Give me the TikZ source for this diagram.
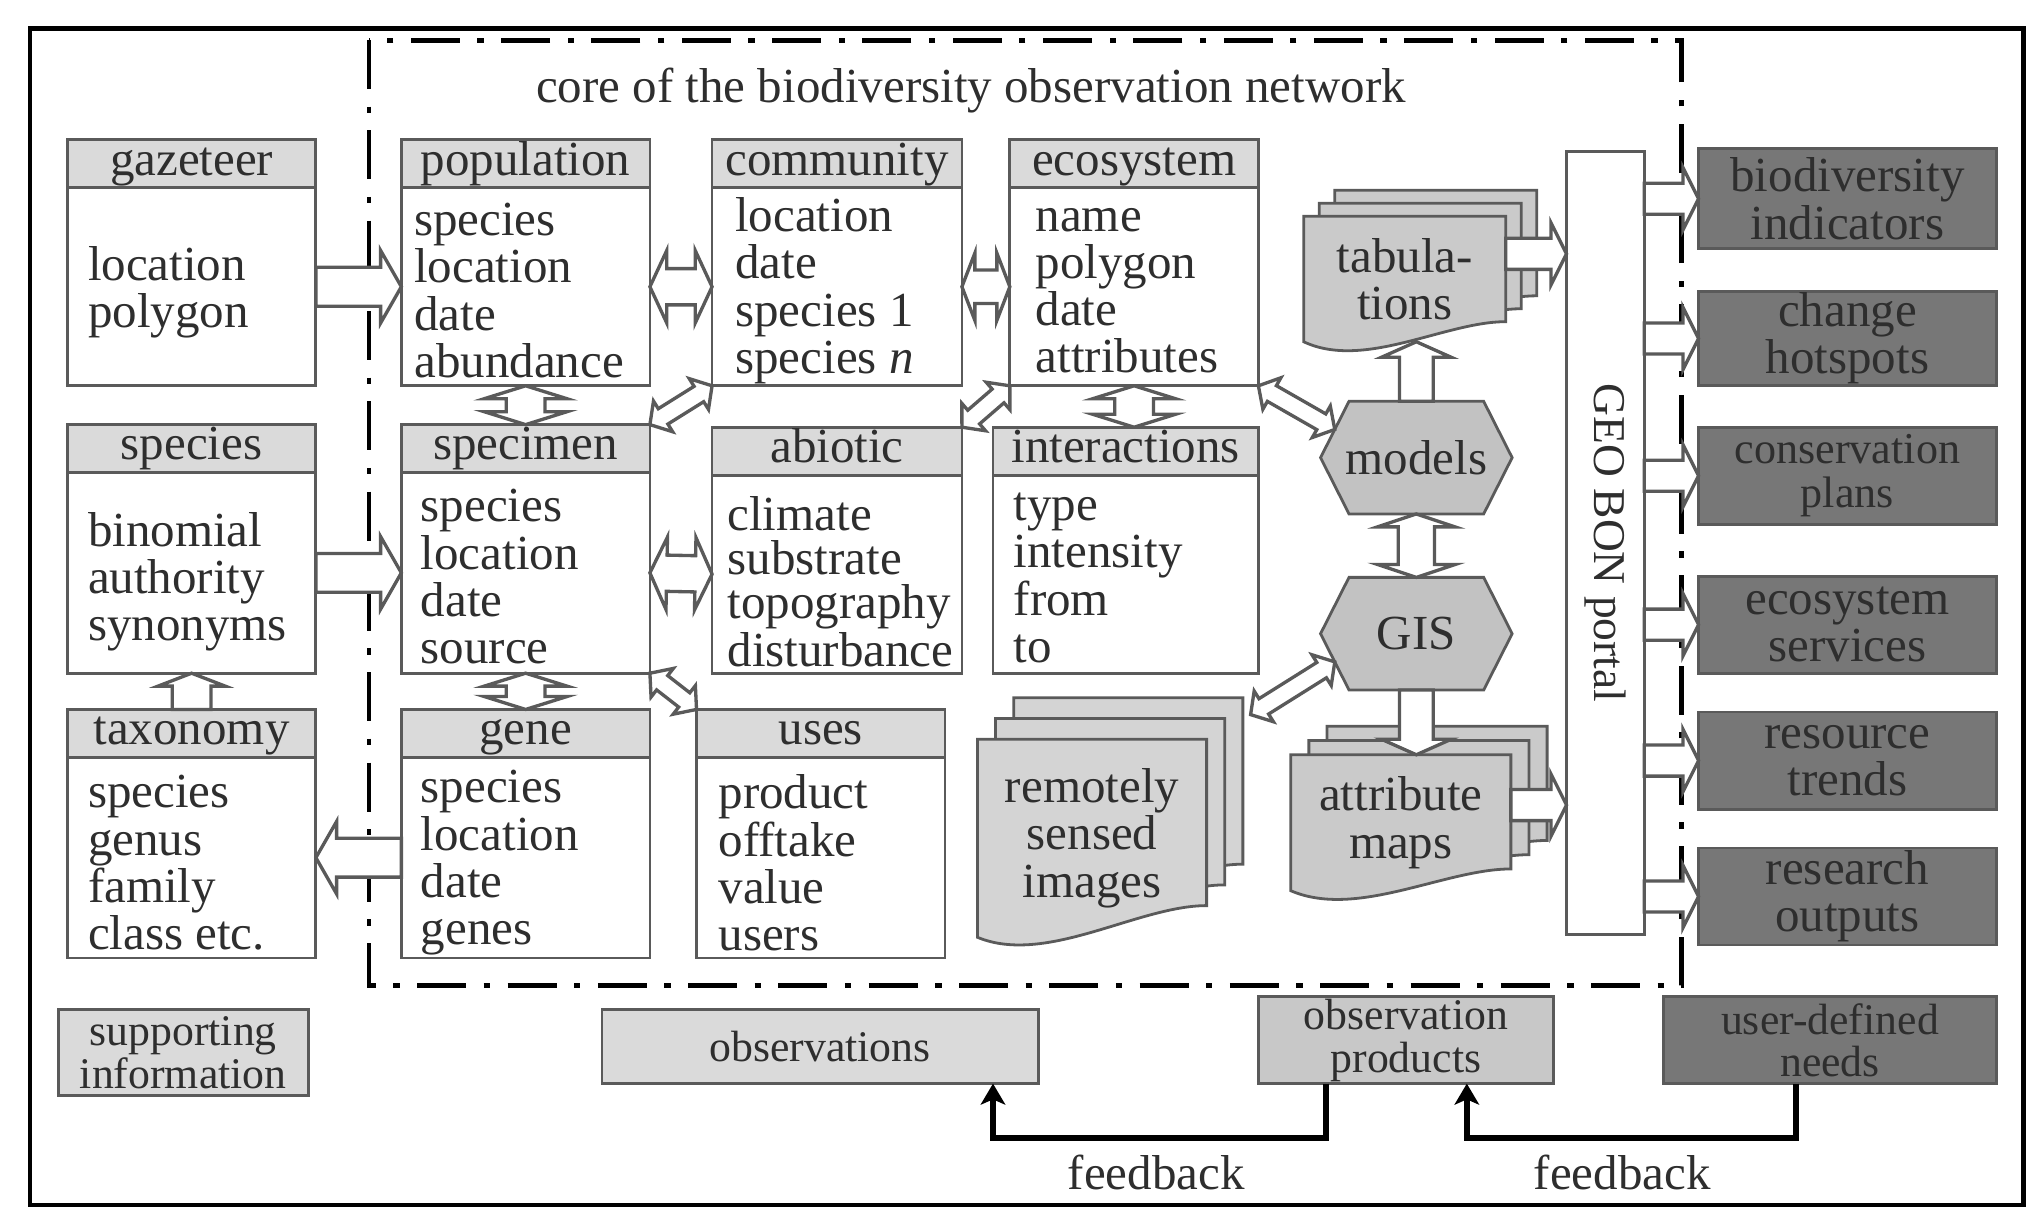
\documentclass[tikz,border=0pt]{standalone}
\usepackage{fontspec}
\setmainfont{Liberation Serif}
\usetikzlibrary{calc,arrows.meta}
\pgfdeclarelayer{bg}
\pgfsetlayers{bg,main}

\definecolor{boxline}{HTML}{5A5A5A}
\definecolor{hdrgray}{HTML}{DADADA}
\definecolor{sheetgray}{HTML}{CACACA}
\definecolor{rsgray}{HTML}{D4D4D4}
\definecolor{hexgray}{HTML}{C2C2C2}
\definecolor{prodgray}{HTML}{C8C8C8}
\definecolor{outgray}{HTML}{777777}
\definecolor{txt}{HTML}{2E2E2E}
\definecolor{arrline}{HTML}{5A5A5A}

\newcommand{\pxl}{0.013cm}

\newcommand{\blkarrow}[5]{%
  \coordinate (hb) at ($(#2)!#5*\pxl!(#1)$);
  \filldraw[blk] ($(#1)!#3*\pxl!90:(#2)$) -- ($(hb)!#3*\pxl!-90:(#1)$) -- ($(hb)!#4*\pxl!-90:(#1)$)
    -- (#2) -- ($(hb)!#4*\pxl!90:(#1)$) -- ($(hb)!#3*\pxl!90:(#1)$) -- ($(#1)!#3*\pxl!-90:(#2)$) -- cycle;}

\newcommand{\dblarrow}[5]{%
  \coordinate (ha) at ($(#1)!#5*\pxl!(#2)$);
  \coordinate (hb) at ($(#2)!#5*\pxl!(#1)$);
  \filldraw[blk] (#1) -- ($(ha)!#4*\pxl!90:(#2)$) -- ($(ha)!#3*\pxl!90:(#2)$) -- ($(hb)!#3*\pxl!-90:(#1)$)
    -- ($(hb)!#4*\pxl!-90:(#1)$) -- (#2) -- ($(hb)!#4*\pxl!90:(#1)$) -- ($(hb)!#3*\pxl!90:(#1)$)
    -- ($(ha)!#3*\pxl!-90:(#2)$) -- ($(ha)!#4*\pxl!-90:(#2)$) -- cycle;}

\newcommand{\docsheet}[5]{%
  \filldraw[sheet, fill=#5] (#1,#2) -- ({#1+#3},#2) -- ({#1+#3},{#2+0.84*#4})
    .. controls ({#1+0.7*#3},{#2+0.84*#4}) and ({#1+0.3*#3},{#2+#4+22}) .. (#1,{#2+#4}) -- cycle;}

\newcommand{\docstack}[7]{%
  \docsheet{#1+2*#5}{#2-2*#6}{#3}{#4}{#7}
  \docsheet{#1+#5}{#2-#6}{#3}{#4}{#7}
  \docsheet{#1}{#2}{#3}{#4}{#7}}

\begin{document}
\begin{tikzpicture}[x=0.013cm, y=-0.013cm,
    every node/.style={font=\fontsize{14}{13.5}\selectfont, text=txt, outer sep=0pt},
    hdr/.style={draw=boxline, line width=0.8pt, fill=hdrgray, anchor=north west, inner sep=0pt, minimum height=37*\pxl,
      text height=9.5pt, text depth=3pt},
    bdy/.style={draw=boxline, line width=0.8pt, fill=white, anchor=north west, inner sep=0pt},
    lst/.style={anchor=west, align=left, inner sep=0pt},
    outbox/.style={draw=boxline, line width=0.8pt, fill=outgray, anchor=north west, inner sep=0pt, align=center, minimum width=230*\pxl},
    plainbox/.style={draw=boxline, line width=0.8pt, anchor=north west, inner sep=0pt, align=center, font=\fontsize{12.5}{12.2}\selectfont},
    docn/.style={anchor=north west, inner sep=0pt, align=center},
    hexn/.style={inner sep=0pt, minimum width=148*\pxl, minimum height=87*\pxl},
    blk/.style={fill=white, draw=arrline, line width=0.95pt},
    sheet/.style={draw=boxline, line width=0.8pt},
    hex/.style={draw=boxline, line width=0.8pt, fill=hexgray},
    coreline/.style={line width=1.4pt, dash pattern=on 14pt off 5pt on 1.8pt off 5pt},
    fb/.style={line width=1.8pt, -{Stealth[length=6pt,width=7pt,inset=1.5pt]}}]

\useasboundingbox (0,0) rectangle (1568,934);
\draw[line width=1.2pt] (23,22) rectangle (1563,931);
\draw[coreline] (285,31) rectangle (1299,761);

\node (title) at (750,70) {core of the biodiversity observation network};

\node[hdr, minimum width=192*\pxl] (gazh) at (52,108) {gazeteer};
\node[bdy, minimum width=192*\pxl, minimum height=153*\pxl] (gazb) at (52,145) {};
\node[lst] (gazt) at ($(gazb.west)+(16,4)$) {location\\polygon};

\node[hdr, minimum width=192*\pxl] (poph) at (310,108) {population};
\node[bdy, minimum width=192*\pxl, minimum height=153*\pxl] (popb) at (310,145) {};
\node[lst] (popt) at ($(popb.west)+(10,3)$) {species\\location\\date\\abundance};

\node[hdr, minimum width=193*\pxl] (comh) at (550,108) {community};
\node[bdy, minimum width=193*\pxl, minimum height=153*\pxl] (comb) at (550,145) {};
\node[lst] (comt) at ($(comb.west)+(18,3)$) {location\\date\\species 1\\species \textit{n}};

\node[hdr, minimum width=192*\pxl] (ecoh) at (780,108) {ecosystem};
\node[bdy, minimum width=192*\pxl, minimum height=153*\pxl] (ecob) at (780,145) {};
\node[lst] (ecot) at ($(ecob.west)+(20,3)$) {name\\polygon\\date\\attributes};

\node[hdr, minimum width=192*\pxl] (spch) at (52,328) {species};
\node[bdy, minimum width=192*\pxl, minimum height=155*\pxl] (spcb) at (52,365) {};
\node[lst] (spct) at ($(spcb.west)+(16,7)$) {binomial\\authority\\synonyms};

\node[hdr, minimum width=192*\pxl] (spmh) at (310,328) {specimen};
\node[bdy, minimum width=192*\pxl, minimum height=155*\pxl] (spmb) at (310,365) {};
\node[lst] (spmt) at ($(spmb.west)+(15,3)$) {species\\location\\date\\source};

\node[hdr, minimum width=193*\pxl] (abih) at (550,330) {abiotic};
\node[bdy, minimum width=193*\pxl, minimum height=153*\pxl] (abib) at (550,367) {};
\node[lst, font=\fontsize{14}{12.6}\selectfont] (abit) at ($(abib.west)+(12,6)$) {climate\\substrate\\topography\\disturbance};

\node[hdr, minimum width=205*\pxl] (inth) at (767,330) {interactions};
\node[bdy, minimum width=205*\pxl, minimum height=153*\pxl] (intb) at (767,367) {};
\node[lst] (intt) at ($(intb.west)+(16,3)$) {type\\intensity\\from\\to};

\node[hdr, minimum width=192*\pxl] (taxh) at (52,548) {taxonomy};
\node[bdy, minimum width=192*\pxl, minimum height=155*\pxl] (taxb) at (52,585) {};
\node[lst] (taxt) at ($(taxb.west)+(16,4)$) {species\\genus\\family\\class etc.};

\node[hdr, minimum width=192*\pxl] (genh) at (310,548) {gene};
\node[bdy, minimum width=192*\pxl, minimum height=155*\pxl] (genb) at (310,585) {};
\node[lst] (gent) at ($(genb.west)+(15,4)$) {species\\location\\date\\genes};

\node[hdr, minimum width=192*\pxl] (useh) at (538,548) {uses};
\node[bdy, minimum width=192*\pxl, minimum height=155*\pxl] (useb) at (538,585) {};
\node[lst] (uset) at ($(useb.west)+(17,4)$) {product\\offtake\\value\\users};

\node[docn, minimum width=156*\pxl, minimum height=97*\pxl] (tab) at (1007,167) {tabula-\\tions};
\node[docn, minimum width=177*\pxl, minimum height=153*\pxl] (rsi) at (755,571) {remotely\\sensed\\images};
\node[docn, minimum width=170*\pxl, minimum height=105*\pxl] (attr) at (997,583) {attribute\\maps};

\node[hexn] (models) at (1094,353.5) {models};
\node[hexn] (gis) at (1094,489.5) {GIS};

\node[draw=boxline, line width=0.8pt, fill=white, anchor=north west, inner sep=0pt,
      minimum width=60*\pxl, minimum height=605*\pxl] (portal) at (1210,117) {};
\node[rotate=-90, font=\fontsize{13}{13}\selectfont] (portalt) at (portal.center) {GEO BON portal};

\node[outbox, minimum height=77*\pxl] (bio) at (1312,115) {biodiversity\\indicators};
\node[outbox, minimum height=73*\pxl] (chg) at (1312,225) {change\\hotspots};
\node[outbox, minimum height=75*\pxl, font=\fontsize{12.6}{12.4}\selectfont] (con) at (1312,330) {conservation\\plans};
\node[outbox, minimum height=75*\pxl] (esv) at (1312,445) {ecosystem\\services};
\node[outbox, minimum height=75*\pxl] (res) at (1312,550) {resource\\trends};
\node[outbox, minimum height=75*\pxl] (rso) at (1312,655) {research\\outputs};

\node[plainbox, fill=hdrgray, minimum width=193*\pxl, minimum height=66*\pxl] (sup) at (45,780) {supporting\\information};
\node[plainbox, fill=hdrgray, minimum width=337*\pxl, minimum height=57*\pxl] (obs) at (465,780) {observations};
\node[plainbox, fill=prodgray, minimum width=228*\pxl, minimum height=67*\pxl] (opp) at (972,770) {observation\\products};
\node[plainbox, fill=outgray, minimum width=257*\pxl, minimum height=67*\pxl] (udn) at (1285,770) {user-defined\\needs};

\node (fb1) at (893,906) {feedback};
\node (fb2) at (1253,906) {feedback};

\begin{pgfonlayer}{bg}
\docstack{1007}{167}{156}{97}{12}{10}{sheetgray}
\docstack{755}{571}{177}{153}{14}{16}{rsgray}
\docstack{997}{583}{170}{105}{14}{11}{sheetgray}
\filldraw[hex] (models.west) -- ($(models.north west)+(22,0)$) -- ($(models.north east)+(-22,0)$) -- (models.east)
  -- ($(models.south east)+(-22,0)$) -- ($(models.south west)+(22,0)$) -- cycle;
\filldraw[hex] (gis.west) -- ($(gis.north west)+(22,0)$) -- ($(gis.north east)+(-22,0)$) -- (gis.east)
  -- ($(gis.south east)+(-22,0)$) -- ($(gis.south west)+(22,0)$) -- cycle;
\end{pgfonlayer}

\blkarrow{gazb.east}{popb.west}{15}{28}{16}
\blkarrow{spcb.east}{spmb.west}{15}{28}{16}
\blkarrow{genb.west}{taxb.east}{15}{28}{16}
\blkarrow{taxh.north}{spcb.south}{15}{26}{10}

\dblarrow{popb.east}{comb.west}{14}{28}{13}
\dblarrow{comb.east}{ecob.west}{13}{26}{10}
\dblarrow{spmb.east}{abib.west}{14}{28}{13}
\dblarrow{popb.south}{spmh.north}{15}{32}{10}
\dblarrow{spmb.south}{genh.north}{15}{32}{10}
\coordinate (ecodown) at (ecob.south |- inth.north);
\dblarrow{ecob.south}{ecodown}{15}{32}{10}

\dblarrow{spmh.north east}{comb.south west}{7}{14}{12}
\dblarrow{abih.north east}{ecob.south west}{7}{14}{12}
\dblarrow{spmb.south east}{useh.north west}{7}{14}{12}
\coordinate (modin) at ($(models.west)!0.5!(models.north west)+(11,0)$);
\dblarrow{ecob.south east}{modin}{7}{14}{12}
\coordinate (gisin) at ($(gis.west)!0.5!(gis.south west)+(11,0)$);
\coordinate (rsiout) at ($(rsi.north east)+(34,-19)$);
\dblarrow{rsiout}{gisin}{7}{14}{12}

\coordinate (tabin) at (models.north |- tab.south);
\blkarrow{models.north}{tabin}{13}{27}{12}
\dblarrow{models.south}{gis.north}{14}{30}{10}
\coordinate (attrin) at (gis.south |- attr.north);
\blkarrow{gis.south}{attrin}{13}{27}{12}

\coordinate (tabout) at ($(tab.north east)!0.3!(tab.south east)$);
\coordinate (tabportal) at (tabout -| portal.west);
\blkarrow{tabout}{tabportal}{12}{24}{12}
\coordinate (attrout) at ($(attr.north east)!0.37!(attr.south east)$);
\coordinate (attrportal) at (attrout -| portal.west);
\blkarrow{attrout}{attrportal}{12}{24}{12}

\foreach \b in {bio,chg,con,esv,res,rso}{
  \coordinate (p\b) at (portal.east |- \b.west);
  \blkarrow{p\b}{\b.west}{12}{24}{12}
}

\draw[fb] ($(opp.south west)+(52,0)$) -- ++(0,42) -| ($(obs.south east)+(-35,0)$);
\draw[fb] ($(udn.south west)+(102,0)$) -- ++(0,42) -| ($(opp.south west)+(161,0)$);
\end{tikzpicture}
\end{document}
